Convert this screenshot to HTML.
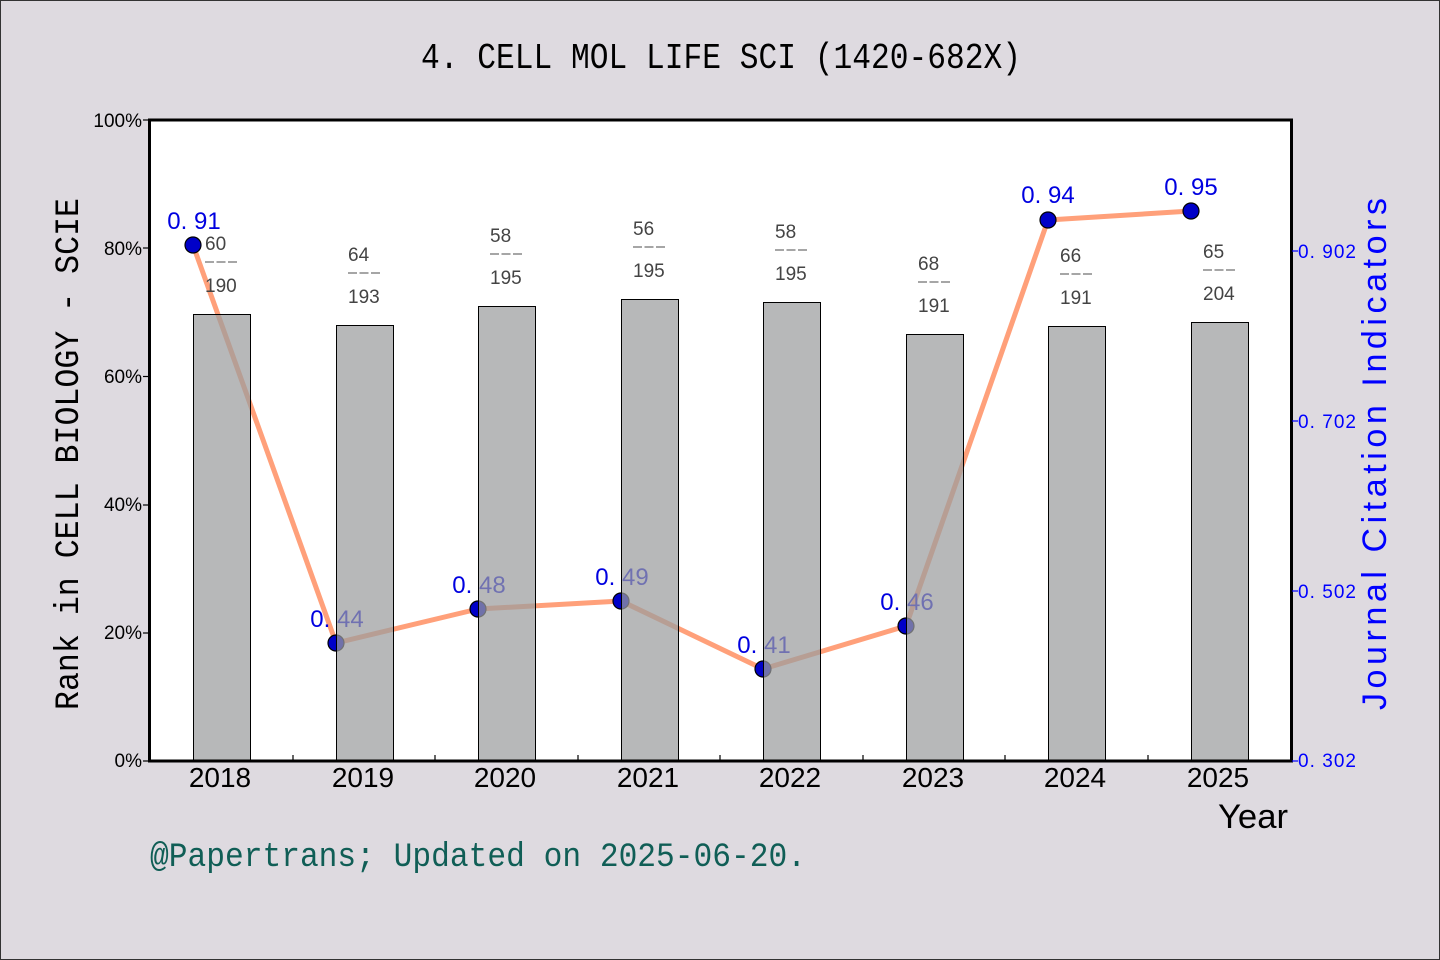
<!DOCTYPE html>
<html><head><meta charset="utf-8"><style>
html,body{margin:0;padding:0;background:#dedae0;}
svg{display:block;}
</style></head><body>
<svg width="1440" height="960" viewBox="0 0 1440 960" xmlns="http://www.w3.org/2000/svg">
<rect x="0.5" y="0.5" width="1439" height="959" fill="#dedae0" stroke="#333" stroke-width="1"/>
<!-- title -->
<text x="421" y="68" font-family="Liberation Mono, monospace" font-size="36" fill="#000" textLength="600" lengthAdjust="spacingAndGlyphs">4. CELL MOL LIFE SCI (1420-682X)</text>
<!-- plot area -->
<rect x="149.5" y="120" width="1142" height="641" fill="#fff"/>
<!-- line -->
<polyline points="193,245 336,643 478,609 621,601 763,669 906,626 1048,220 1191,211" fill="none" stroke="#ffa07a" stroke-width="5" stroke-linejoin="round" stroke-linecap="round"/>
<!-- points -->
<g fill="#0000c8" stroke="#000" stroke-width="1.2">
<circle cx="193" cy="245" r="8"/>
<circle cx="336" cy="643" r="8"/>
<circle cx="478" cy="609" r="8"/>
<circle cx="621" cy="601" r="8"/>
<circle cx="763" cy="669" r="8"/>
<circle cx="906" cy="626" r="8"/>
<circle cx="1048" cy="220" r="8"/>
<circle cx="1191" cy="211" r="8"/>
</g>
<!-- point labels -->
<g font-family="Liberation Sans, sans-serif" font-size="24" fill="#0000e0" text-anchor="middle" xml:space="preserve">
<text x="194" y="229">0. 91</text>
<text x="337" y="627">0. 44</text>
<text x="479" y="593">0. 48</text>
<text x="622" y="585">0. 49</text>
<text x="764" y="653">0. 41</text>
<text x="907" y="610">0. 46</text>
<text x="1048" y="203">0. 94</text>
<text x="1191" y="195">0. 95</text>
</g>
<!-- annotations -->
<g font-family="Liberation Sans, sans-serif" font-size="19" fill="#444">
<text x="205" y="250">60</text><text x="205" y="292">190</text>
<text x="348" y="261">64</text><text x="348" y="303">193</text>
<text x="490" y="242">58</text><text x="490" y="284">195</text>
<text x="633" y="235">56</text><text x="633" y="277">195</text>
<text x="775" y="238">58</text><text x="775" y="280">195</text>
<text x="918" y="270">68</text><text x="918" y="312">191</text>
<text x="1060" y="262">66</text><text x="1060" y="304">191</text>
<text x="1203" y="258">65</text><text x="1203" y="300">204</text>
</g>
<g stroke="#888" stroke-width="1.5" stroke-dasharray="9 2.5">
<line x1="205" y1="262" x2="237" y2="262"/>
<line x1="348" y1="273" x2="380" y2="273"/>
<line x1="490" y1="254" x2="522" y2="254"/>
<line x1="633" y1="247" x2="665" y2="247"/>
<line x1="775" y1="250" x2="807" y2="250"/>
<line x1="918" y1="282" x2="950" y2="282"/>
<line x1="1060" y1="274" x2="1092" y2="274"/>
<line x1="1203" y1="270" x2="1235" y2="270"/>
</g>
<!-- bars -->
<g fill="rgba(155,156,158,0.72)" stroke="#000" stroke-width="1">
<rect x="193.5" y="314.5" width="57" height="446"/>
<rect x="336.5" y="325.5" width="57" height="435"/>
<rect x="478.5" y="306.5" width="57" height="454"/>
<rect x="621.5" y="299.5" width="57" height="461"/>
<rect x="763.5" y="302.5" width="57" height="458"/>
<rect x="906.5" y="334.5" width="57" height="426"/>
<rect x="1048.5" y="326.5" width="57" height="434"/>
<rect x="1191.5" y="322.5" width="57" height="438"/>
</g>
<!-- minor bottom ticks -->
<g stroke="#000" stroke-width="1.2">
<line x1="293" y1="761" x2="293" y2="755"/>
<line x1="435" y1="761" x2="435" y2="755"/>
<line x1="578" y1="761" x2="578" y2="755"/>
<line x1="720" y1="761" x2="720" y2="755"/>
<line x1="863" y1="761" x2="863" y2="755"/>
<line x1="1005" y1="761" x2="1005" y2="755"/>
<line x1="1148" y1="761" x2="1148" y2="755"/>
</g>
<!-- frame -->
<rect x="149.5" y="120" width="1142" height="641" fill="none" stroke="#000" stroke-width="3"/>
<!-- left ticks -->
<g stroke="#000" stroke-width="1.2">
<line x1="143" y1="120" x2="149" y2="120"/>
<line x1="143" y1="248" x2="149" y2="248"/>
<line x1="143" y1="376.5" x2="149" y2="376.5"/>
<line x1="143" y1="505" x2="149" y2="505"/>
<line x1="143" y1="633" x2="149" y2="633"/>
<line x1="143" y1="761" x2="149" y2="761"/>
</g>
<g font-family="Liberation Sans, sans-serif" font-size="19" fill="#000" text-anchor="end">
<text x="142" y="127">100%</text>
<text x="142" y="255">80%</text>
<text x="142" y="383">60%</text>
<text x="142" y="511">40%</text>
<text x="142" y="639">20%</text>
<text x="142" y="767">0%</text>
</g>
<!-- right ticks -->
<g stroke="#0000ff" stroke-width="1.2">
<line x1="1292" y1="251" x2="1298" y2="251"/>
<line x1="1292" y1="421" x2="1298" y2="421"/>
<line x1="1292" y1="591" x2="1298" y2="591"/>
<line x1="1292" y1="761" x2="1298" y2="761"/>
</g>
<g font-family="Liberation Sans, sans-serif" font-size="19" fill="#0000ff" xml:space="preserve">
<text x="1298" y="258" textLength="58">0. 902</text>
<text x="1298" y="428" textLength="58">0. 702</text>
<text x="1298" y="598" textLength="58">0. 502</text>
<text x="1298" y="767" textLength="58">0. 302</text>
</g>
<!-- year labels -->
<g font-family="Liberation Sans, sans-serif" font-size="28" fill="#000" text-anchor="middle">
<text x="220" y="787">2018</text>
<text x="363" y="787">2019</text>
<text x="505" y="787">2020</text>
<text x="648" y="787">2021</text>
<text x="790" y="787">2022</text>
<text x="933" y="787">2023</text>
<text x="1075" y="787">2024</text>
<text x="1218" y="787">2025</text>
</g>
<text x="1218" y="828" font-family="Liberation Sans, sans-serif" font-size="34" fill="#000" textLength="70" lengthAdjust="spacingAndGlyphs">Year</text>
<!-- axis titles -->
<text transform="translate(78,710) rotate(-90)" font-family="Liberation Mono, monospace" font-size="34" fill="#000" textLength="512" lengthAdjust="spacingAndGlyphs">Rank in CELL BIOLOGY - SCIE</text>
<text transform="translate(1386,710) rotate(-90)" font-family="Liberation Sans, sans-serif" font-size="34" fill="#0000ff" textLength="512" lengthAdjust="spacing">Journal Citation Indicators</text>
<!-- footer -->
<text x="150" y="866" font-family="Liberation Mono, monospace" font-size="34" fill="#105e56" textLength="656" lengthAdjust="spacingAndGlyphs">@Papertrans; Updated on 2025-06-20.</text>
</svg>
</body></html>
